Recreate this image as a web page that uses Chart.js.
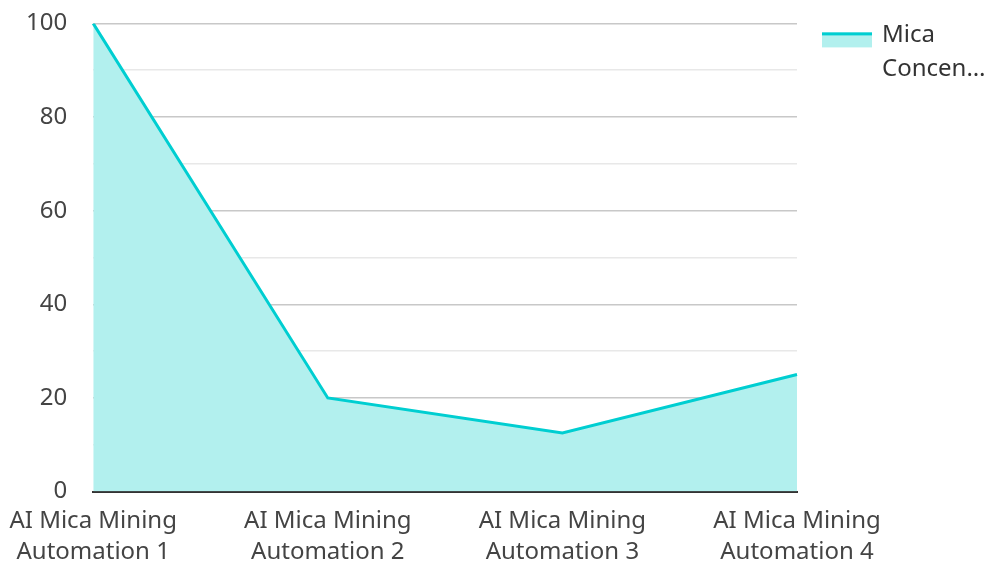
<!DOCTYPE html>
<html lang="en">
<head>
    <meta charset="UTF-8">
    <title>Mica Concentration</title>
    <script src="https://cdn.jsdelivr.net/npm/chart.js"></script>
    <style>
        html, body { margin: 0; padding: 0; background: #fff; overflow: hidden; }
        /* puxa o grafico para cima para o topo ficar igual */
        #wrap { width: 989px; height: 580px; margin-top: -17px; }
    </style>
</head>
<body>
    <div id="wrap">
        <canvas id="myChart"></canvas>
    </div>
<script>
    // data
    var categorias = [
        ['AI Mica Mining', 'Automation 1'],
        ['AI Mica Mining', 'Automation 2'],
        ['AI Mica Mining', 'Automation 3'],
        ['AI Mica Mining', 'Automation 4']
    ];
    var serieNome = 'Mica Concentration';
    var serieValores = [100, 20, 12.5, 25];
    var yTicks = [0, 20, 40, 60, 80, 100];

    var corLinha = 'rgb(0,206,209)';
    var corArea = 'rgb(178,240,238)';
    var fonte = '"Noto Sans", "Open Sans", sans-serif';

    // legenda desenhada a mao (texto quebrado e cortado com …)
    var legendaPlugin = {
        id: 'legendaLateral',
        afterDraw: function (chart) {
            var ctx = chart.ctx;
            var area = chart.chartArea;
            var x = area.right + 25;
            var y = area.top + 9;
            ctx.save();
            ctx.fillStyle = corArea;
            ctx.fillRect(x, y, 50, 15);
            ctx.fillStyle = corLinha;
            ctx.fillRect(x, y, 50, 3);

            ctx.font = '24px ' + fonte;
            ctx.fillStyle = '#333';
            ctx.textBaseline = 'middle';
            var maxW = 989 - (x + 60);
            var palavras = serieNome.split(' ');
            var linhas = [];
            for (var i = 0; i < palavras.length; i++) {
                var p = palavras[i];
                if (linhas.length == 1) {
                    // segunda linha: o resto, cortado
                    var resto = palavras.slice(i).join(' ');
                    while (ctx.measureText(resto + '…').width > maxW && resto.length > 1) {
                        resto = resto.slice(0, -1);
                    }
                    linhas.push(resto + '…');
                    break;
                }
                linhas.push(p);
            }
            for (var j = 0; j < linhas.length; j++) {
                ctx.fillText(linhas[j], x + 60, y + 3 + j * 34);
            }
            ctx.restore();
        }
    };

    const ctx = document.getElementById('myChart');

    var Grafico = new Chart(ctx, {
        type: 'line',
        data: {
            labels: categorias,
            datasets: [{
                label: serieNome,
                data: serieValores,
                borderColor: corLinha,
                backgroundColor: corArea,
                borderWidth: 3,
                fill: 'origin',
                pointRadius: 0,
                tension: 0
            }]
        },
        options: {
            responsive: true,
            maintainAspectRatio: false,
            animation: false,
            layout: {
                padding: { top: 0, right: 192, left: 0, bottom: -11 }
            },
            plugins: {
                legend: { display: false },
                tooltip: { enabled: false }
            },
            scales: {
                x: {
                    offset: false,
                    grid: { display: false },
                    border: { display: true, color: '#333', width: 2 },
                    ticks: {
                        color: '#444',
                        font: { family: fonte, size: 24, lineHeight: 1.3 },
                        maxRotation: 0,
                        autoSkip: false,
                        padding: 6
                    }
                },
                y: {
                    min: 0,
                    max: 100,
                    border: { display: false },
                    grid: {
                        drawTicks: false,
                        color: function (c) {
                            if (c.tick.value == 0) return 'rgba(0,0,0,0)';
                            return yTicks.indexOf(c.tick.value) >= 0 ? '#c8c8c8' : '#e8e8e8';
                        },
                        lineWidth: 1.5
                    },
                    ticks: {
                        stepSize: 10,
                        color: '#444',
                        font: { family: fonte, size: 24 },
                        padding: 26,
                        callback: function (v) {
                            return yTicks.indexOf(v) >= 0 ? v : '';
                        }
                    }
                }
            }
        },
        plugins: [legendaPlugin]
    });
</script>
</body>
</html>
